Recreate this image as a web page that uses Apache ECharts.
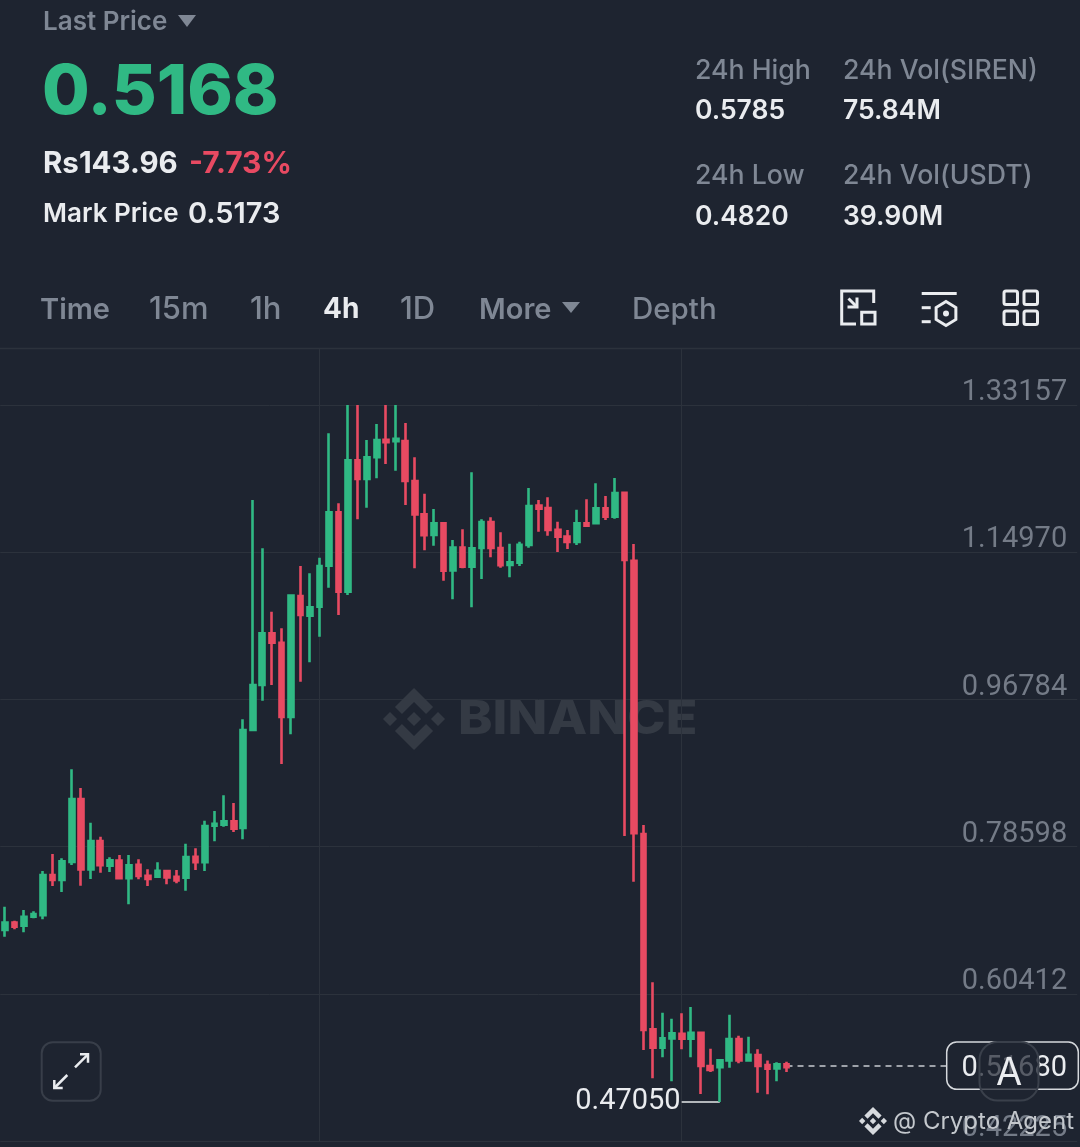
<!DOCTYPE html>
<html><head><meta charset="utf-8">
<style>html,body{margin:0;padding:0;background:#1e2430}#c{width:1080px;height:1147px}</style>
<script src="https://cdn.jsdelivr.net/npm/echarts@6/dist/echarts.min.js"></script>
</head><body><div id="c"></div>
<script>
const opens=[.6829,.6920,.6882,.6994,.7011,.7509,.7447,.7669,.8448,.7579,.7929,.7624,.7686,.7468,.7636,.7500,.7488,.7558,.7488,.7476,.7735,.7666,.8118,.8130,.8172,.8090,.9300,.9856,1.0495,1.0379,.9461,1.0956,1.0713,1.0824,1.1330,1.1990,1.1009,1.2632,1.2401,1.2670,1.2887,1.2867,1.2871,1.2377,1.1965,1.1710,1.1854,1.1273,1.1553,1.1318,1.1549,1.1870,1.1549,1.1339,1.1367,1.1586,1.2072,1.2043,1.1775,1.1689,1.1623,1.1854,1.1854,1.2039,1.1936,1.2232,1.1392,.8015,.5603,.5375,.5491,.5548,.5486,.5560,.5149,.5133,.5219,.5482,.5219,.5285,.5161,.5120,.5170];
const closes=[.6920,.6870,.6994,.7027,.7509,.7447,.7678,.8448,.7579,.7929,.7629,.7690,.7468,.7629,.7497,.7459,.7562,.7480,.7443,.7731,.7666,.8114,.8143,.8172,.8081,.9300,.9856,1.0495,1.0379,.9461,1.0960,1.0721,1.0816,1.1327,1.1990,1.1009,1.2632,1.2401,1.2670,1.2883,1.2855,1.2899,1.2377,1.1965,1.1706,1.1854,1.1269,1.1553,1.1318,1.1545,1.1870,1.1549,1.1335,1.1372,1.1590,1.2068,1.2035,1.1771,1.1689,1.1623,1.1854,1.1824,1.2039,1.1936,1.2229,1.1401,.8024,.5594,.5375,.5491,.5553,.5486,.5560,.5149,.5100,.5219,.5482,.5219,.5288,.5149,.5116,.5170,.5133];
const lows=[.6747,.6838,.6801,.6974,.6962,.7373,.7299,.7632,.7377,.7459,.7537,.7546,.7459,.7147,.7456,.7373,.7480,.7394,.7406,.7315,.7571,.7558,.7925,.8106,.8040,.7950,.9288,.9662,.9856,.8880,.9247,.9897,1.0137,1.0453,1.1058,1.0721,1.0968,1.1904,1.2047,1.2410,1.2587,1.2504,1.2080,1.1298,1.1521,1.1577,1.1145,1.0915,1.1298,1.0816,1.1166,1.1434,1.1306,1.1187,1.1327,1.1553,1.1750,1.1701,1.1500,1.1537,1.1586,1.1812,1.1854,1.1895,1.1911,.7991,.7426,.5347,.4997,.5257,.4961,.5355,.5257,.4803,.5075,.4705,.5128,.5182,.5202,.4820,.4800,.4961,.5075];
const highs=[.7117,.6944,.7076,.7060,.7558,.7768,.7715,.8815,.8584,.8155,.7982,.7728,.7756,.7756,.7703,.7579,.7666,.7562,.7571,.7896,.7839,.8180,.8300,.8494,.8398,.9433,1.2142,1.1545,1.0762,1.0557,1.0977,1.1327,1.1236,1.1429,1.2966,1.2101,1.3316,1.3316,1.2883,1.3081,1.3316,1.3316,1.3093,1.2670,1.2220,1.2031,1.1867,1.1648,1.1780,1.2484,1.1904,1.1928,1.1743,1.1602,1.1627,1.2290,1.2142,1.2175,1.1874,1.1771,1.2022,1.2151,1.2348,1.2191,1.2414,1.2241,1.1598,.8127,.6183,.5808,.5734,.5801,.5879,.5560,.5363,.5235,.5782,.5523,.5511,.5355,.5217,.5194,.5202];
const priceTicks=[0.42225,0.60412,0.78598,0.96784,1.14970,1.33157];
const slotCount=113;
const slots=Array.from({length:slotCount},(_,i)=>i);
const verticalGridSlots=[33,71];
const lowPrice=0.4705, lowCandle=75, lowLabelSlot=71, lowLabel='0.47050';
const lastLineLevel=0.5156, lastCandle=82, lastLineEndSlot=99, lastLabel='0.51680';

const BG='#1e2430',GREEN='#30b984',RED='#e84a62',GREY='#7f8794',WHITE='#eaecef',FONT='Inter',NUMFONT='Roboto';
const candles=opens.map((o,i)=>[o,closes[i],lows[i],highs[i]]);
function t(x,y,text,size,fill,weight,align,z,fam){return {type:'text',z:z||100,style:{x,y,text,fill,align:align||'left',verticalAlign:'middle',font:`${weight||500} ${size}px ${fam||FONT}`}};}
function line(pts,color,w,z){return {type:'polyline',z:z||100,shape:{points:pts},style:{stroke:color,lineWidth:w,fill:null}};}
function box(x,y,w,h,r,stroke,lw,fill,z){return {type:'rect',z:z||100,shape:{x,y,width:w,height:h,r},style:{stroke,lineWidth:lw,fill:fill||null}};}
const LOGO=[
 [[38.73,53.2],[63.32,28.62],[87.92,53.22],[102.22,38.91],[63.32,0],[24.43,38.9]],
 [[0,63.31],[14.3,49],[28.61,63.31],[14.3,77.61]],
 [[38.73,73.41],[63.32,98],[87.92,73.4],[102.23,87.69],[63.33,126.6],[24.42,87.72]],
 [[98,63.31],[112.3,49.01],[126.61,63.31],[112.3,77.62]],
 [[77.83,63.3],[63.32,48.78],[48.81,63.28],[63.32,77.78]]];
function logo(x,y,s,fill,z){return LOGO.map(p=>({type:'polygon',z,shape:{points:p.map(q=>[x+q[0]*s/126.61,y+q[1]*s/126.61])},style:{fill}}));}
function tri(x,y,w,h,fill){return {type:'polygon',z:100,shape:{points:[[x,y],[x+w,y],[x+w/2,y+h]]},style:{fill}};}
const hexC=[946,313.5],hexR=12;
const hex=[0,1,2,3,4,5].map(k=>[hexC[0]+hexR*Math.sin(k*Math.PI/3)*.95,hexC[1]-hexR*Math.cos(k*Math.PI/3)]);

const elements=[
 ...logo(383,688,62,'#343a44',1),
 {...t(0,0,'BINANCE',46,'#343a44',800,'left',1),x:458,y:720,scaleX:1.13},
 t(43,22,'Last Price',26,GREY,600),
 tri(178,15,18,12,GREY),
 t(42,93,'0.5168',69,GREEN,800),
 t(43,164,'Rs143.96',29.5,WHITE,700),
 t(189,164,'-7.73%',30,RED,700),
 t(43,214.5,'Mark Price',26,WHITE,600),
 t(188,214.5,'0.5173',29,WHITE,600),
 t(695,70.5,'24h High',26.7,GREY,500),
 t(695,111.5,'0.5785',26.5,WHITE,600),
 t(843,70.5,'24h Vol(SIREN)',26.7,GREY,500),
 t(843,111.5,'75.84M',26.5,WHITE,600),
 t(695,175.5,'24h Low',26.7,GREY,500),
 t(695,217.5,'0.4820',26.5,WHITE,600),
 t(843,175.5,'24h Vol(USDT)',26.7,GREY,500),
 t(843,217.5,'39.90M',26.5,WHITE,600),
 t(40,310,'Time',29,GREY,600),
 t(149,310,'15m',31,GREY,500),
 t(250,310,'1h',31,GREY,500),
 t(323,310,'4h',28,WHITE,700),
 t(400,310,'1D',31,GREY,500),
 t(479,310,'More',29,GREY,600),
 tri(562,302,18,11,GREY),
 t(632,310,'Depth',29.5,GREY,500),
 line([[873.7,303],[873.7,291],[841.7,291],[841.7,324],[856,324]],WHITE,3),
 box(861.7,312.3,13.3,11.7,0,WHITE,3),
 line([[848.5,298.5],[857,307]],WHITE,3),
 line([[847.5,307],[857,307],[857,297.5]],WHITE,3),
 line([[921.7,293.5],[956.7,293.5]],WHITE,3),
 line([[921.7,307.7],[930.7,307.7]],WHITE,3),
 line([[921.7,321.7],[930.7,321.7]],WHITE,3),
 {type:'polygon',z:100,shape:{points:hex},style:{stroke:WHITE,lineWidth:3,fill:null}},
 {type:'circle',z:100,shape:{cx:hexC[0],cy:hexC[1],r:3},style:{fill:WHITE}},
 box(1004,291,13.5,13.5,2,WHITE,3),box(1024,291,13.5,13.5,2,WHITE,3),
 box(1004,311,13.5,13.5,2,WHITE,3),box(1024,311,13.5,13.5,2,WHITE,3),
 line([[0,348.5],[1080,348.5]],'#2c323c',1.5),
 box(41.7,1042.3,59,58.4,11,'#383e49',2),
 line([[75,1067.3],[88,1054.3]],WHITE,2.5),
 line([[80,1054.3],[88,1054.3],[88,1062.7]],WHITE,2.5),
 line([[67.3,1075],[54.3,1088]],WHITE,2.5),
 line([[54.3,1080],[54.3,1088],[62.7,1088]],WHITE,2.5),
 box(946.7,1042,131.6,47.3,10,'#d5d8dc',1.5,BG),
 t(1067,1068.5,lastLabel,29,WHITE,400,'right',100,NUMFONT),
 box(979.5,1042,59,58.5,18,'#3a404b',2,'rgba(30,36,48,0.72)'),
 t(1009,1074,'A',38,WHITE,400,'center'),
 ...logo(859,1107,28,'#d7dade',100),
 t(893,1122,'@ Crypto Agent',24,'#c4c8cd',400)
];

const vLines=verticalGridSlots.map(s=>({xAxis:s,lineStyle:{color:'#2c323c',width:1,type:'solid'},label:{show:false}}));
const option={
 backgroundColor:BG,animation:false,
 grid:{left:0.2,right:2.8,top:349,bottom:6},
 xAxis:{type:'category',data:slots,boundaryGap:true,show:false},
 yAxis:{type:'value',position:'right',min:0.42225,max:1.40076,
  axisLine:{show:false},
  axisTick:{show:false,customValues:priceTicks},
  splitLine:{show:true,lineStyle:{color:'#2c323c',width:1}},
  axisLabel:{inside:true,margin:10,customValues:priceTicks,formatter:v=>v.toFixed(5),color:'#747b87',fontFamily:NUMFONT,fontSize:29,verticalAlign:'bottom',lineHeight:24,showMaxLabel:true,showMinLabel:true}},
 series:[{type:'candlestick',data:candles,barWidth:5.2,clip:false,z:5,
  itemStyle:{color:GREEN,color0:RED,borderColor:GREEN,borderColor0:RED,borderWidth:2.6},
  markLine:{silent:true,symbol:'none',animation:false,z:3,data:[
   ...vLines,
   [{coord:[lastCandle,lastLineLevel],lineStyle:{color:'#c9ccd1',width:1.5,type:[6,5]},label:{show:false}},{coord:[lastLineEndSlot,lastLineLevel]}],
   [{coord:[lowLabelSlot,lowPrice],lineStyle:{color:'#e6e8ea',width:1.5,type:'solid'},
     label:{show:true,position:'start',formatter:lowLabel,color:WHITE,fontFamily:NUMFONT,fontSize:29,distance:1,padding:[8,0,0,0]}},{coord:[lowCandle,lowPrice]}]
  ]}}],
 graphic:{elements}
};
echarts.init(document.getElementById('c'),null,{renderer:'canvas'}).setOption(option);
</script></body></html>
